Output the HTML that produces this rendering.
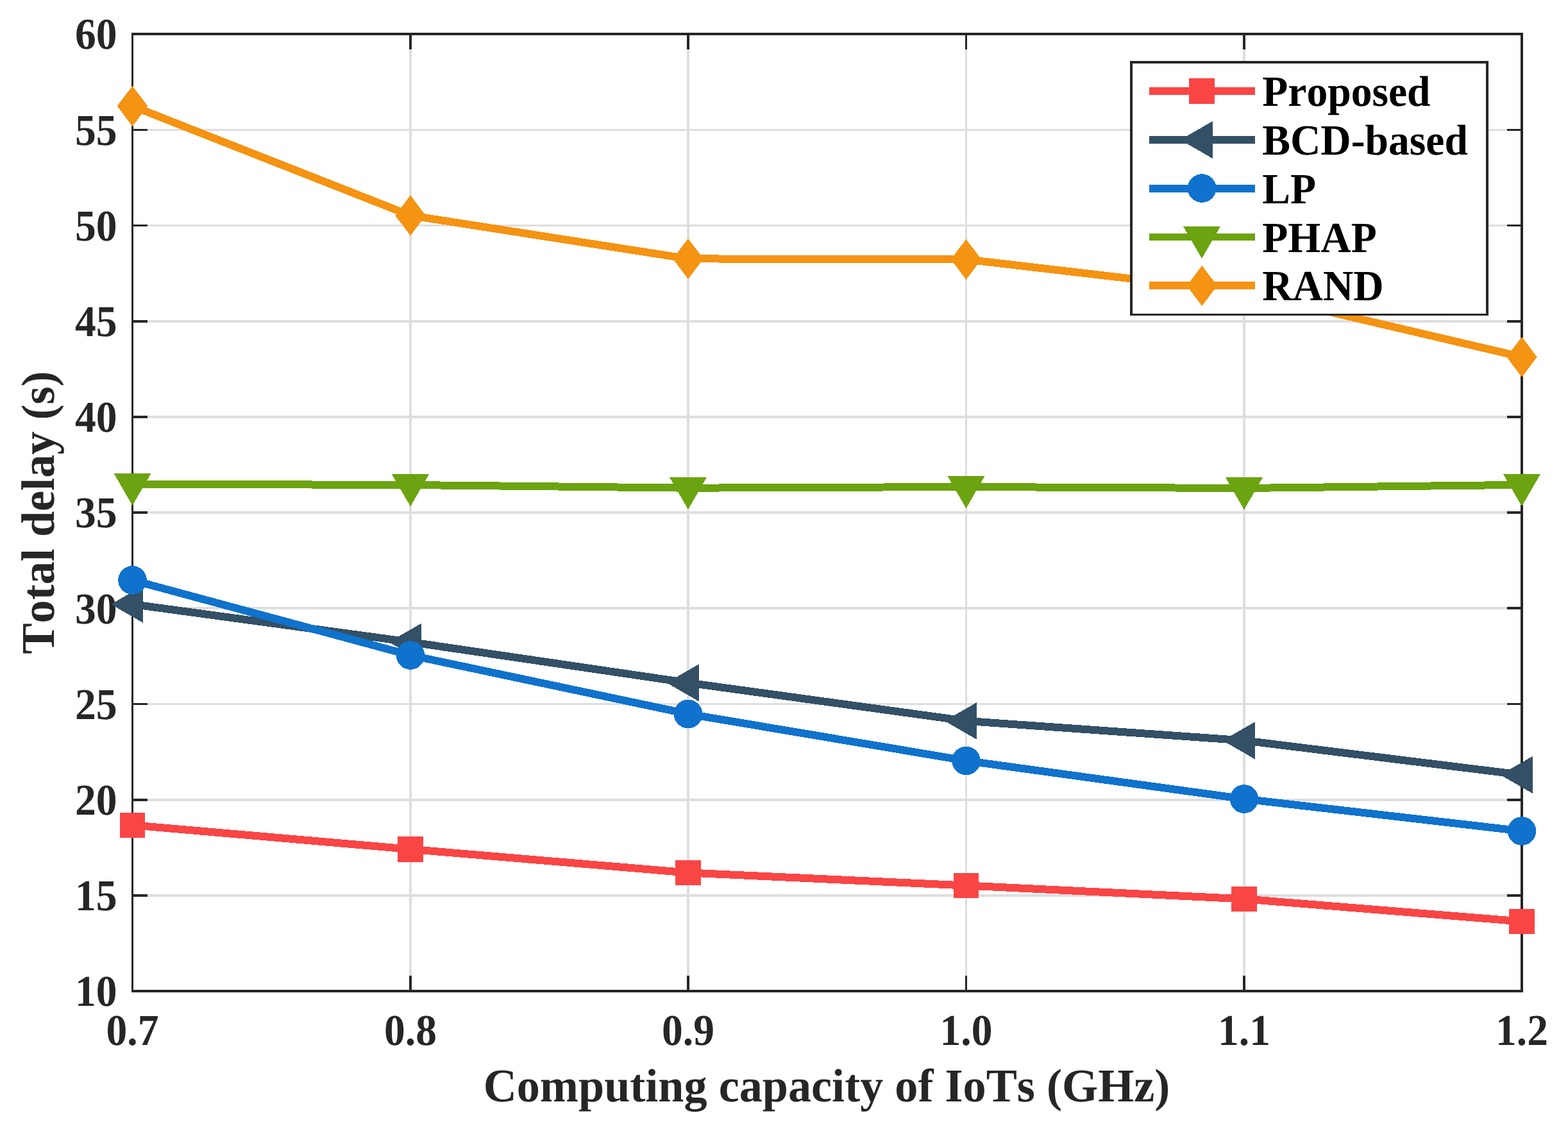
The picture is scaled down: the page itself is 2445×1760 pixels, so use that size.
<!DOCTYPE html>
<html><head><meta charset="utf-8"><title>Total delay vs computing capacity</title>
<style>
html,body{margin:0;padding:0;background:#fff;}
body{width:2445px;height:1760px;overflow:hidden;}
svg{display:block;}
text{font-family:"Liberation Serif",serif;font-weight:bold;font-kerning:none;text-rendering:geometricPrecision;}
</style></head><body>
<svg width="2445" height="1760" viewBox="0 0 2445 1760" shape-rendering="crispEdges">
<rect width="2445" height="1760" fill="#fff"/>
<g fill="#dedede"><rect x="638" y="55" width="4" height="1488"/><rect x="1071" y="55" width="4" height="1488"/><rect x="1505" y="55" width="3" height="1488"/><rect x="1938" y="55" width="4" height="1488"/><rect x="208" y="1394" width="2163" height="4"/><rect x="208" y="1245" width="2163" height="4"/><rect x="208" y="1096" width="2163" height="3"/><rect x="208" y="946" width="2163" height="4"/><rect x="208" y="797" width="2163" height="4"/><rect x="208" y="648" width="2163" height="4"/><rect x="208" y="499" width="2163" height="4"/><rect x="208" y="350" width="2163" height="3"/><rect x="208" y="201" width="2163" height="3"/></g>
<g fill="#262626"><rect x="638" y="55" width="4" height="22"/><rect x="638" y="1521" width="4" height="22"/><rect x="1071" y="55" width="4" height="22"/><rect x="1071" y="1521" width="4" height="22"/><rect x="1505" y="55" width="3" height="22"/><rect x="1505" y="1521" width="3" height="22"/><rect x="1938" y="55" width="4" height="22"/><rect x="1938" y="1521" width="4" height="22"/><rect x="208" y="1394" width="22" height="4"/><rect x="2350" y="1394" width="21" height="4"/><rect x="208" y="1245" width="22" height="4"/><rect x="2350" y="1245" width="21" height="4"/><rect x="208" y="1096" width="22" height="3"/><rect x="2350" y="1096" width="21" height="3"/><rect x="208" y="946" width="22" height="4"/><rect x="2350" y="946" width="21" height="4"/><rect x="208" y="797" width="22" height="4"/><rect x="2350" y="797" width="21" height="4"/><rect x="208" y="648" width="22" height="4"/><rect x="2350" y="648" width="21" height="4"/><rect x="208" y="499" width="22" height="4"/><rect x="2350" y="499" width="21" height="4"/><rect x="208" y="350" width="22" height="3"/><rect x="2350" y="350" width="21" height="3"/><rect x="208" y="201" width="22" height="3"/><rect x="2350" y="201" width="21" height="3"/><rect x="205" y="51" width="3" height="1496"/><rect x="2371" y="51" width="4" height="1496"/><rect x="205" y="51" width="2170" height="4"/><rect x="205" y="1543" width="2170" height="4"/></g>
<g fill="#262626" font-size="65.6"><text transform="translate(182.5,1568.4) scale(1,1.045)" text-anchor="end">10</text><text transform="translate(182.5,1419.2) scale(1,1.045)" text-anchor="end">15</text><text transform="translate(182.5,1270.0) scale(1,1.045)" text-anchor="end">20</text><text transform="translate(182.5,1120.8) scale(1,1.045)" text-anchor="end">25</text><text transform="translate(182.5,971.6) scale(1,1.045)" text-anchor="end">30</text><text transform="translate(182.5,822.4) scale(1,1.045)" text-anchor="end">35</text><text transform="translate(182.5,673.2) scale(1,1.045)" text-anchor="end">40</text><text transform="translate(182.5,524.0) scale(1,1.045)" text-anchor="end">45</text><text transform="translate(182.5,374.8) scale(1,1.045)" text-anchor="end">50</text><text transform="translate(182.5,225.6) scale(1,1.045)" text-anchor="end">55</text><text transform="translate(182.5,76.4) scale(1,1.045)" text-anchor="end">60</text><text transform="translate(206.5,1629.3) scale(1,1.045)" text-anchor="middle">0.7</text><text transform="translate(640.0,1629.3) scale(1,1.045)" text-anchor="middle">0.8</text><text transform="translate(1073.0,1629.3) scale(1,1.045)" text-anchor="middle">0.9</text><text transform="translate(1506.5,1629.3) scale(1,1.045)" text-anchor="middle">1.0</text><text transform="translate(1940.0,1629.3) scale(1,1.045)" text-anchor="middle">1.1</text><text transform="translate(2373.0,1629.3) scale(1,1.045)" text-anchor="middle">1.2</text></g>
<text transform="translate(1289,1717) scale(1,1.015)" text-anchor="middle" font-size="72.2" fill="#262626">Computing capacity of IoTs (GHz)</text>
<text transform="translate(84,799) rotate(-90) scale(1,1.015)" x="0" y="0" text-anchor="middle" font-size="72.2" fill="#262626">Total delay (s)</text>
<polyline points="206.5,1286.3 640.0,1323.9 1073.0,1360.5 1506.5,1380.5 1940.0,1401.4 2373.0,1436.5" fill="none" stroke="#FA4545" stroke-width="12" stroke-linejoin="round"/>
<g fill="#FA4545"><rect x="186.75" y="1266.55" width="39.5" height="39.5"/><rect x="620.25" y="1304.15" width="39.5" height="39.5"/><rect x="1053.25" y="1340.75" width="39.5" height="39.5"/><rect x="1486.75" y="1360.75" width="39.5" height="39.5"/><rect x="1920.25" y="1381.65" width="39.5" height="39.5"/><rect x="2353.25" y="1416.75" width="39.5" height="39.5"/></g>
<polyline points="206.5,942.0 640.0,1000.9 1073.0,1064.4 1506.5,1123.9 1940.0,1154.4 2373.0,1207.9" fill="none" stroke="#335066" stroke-width="12" stroke-linejoin="round"/>
<g fill="#335066"><polygon points="173.01,942.00 223.24,913.00 223.24,971.00"/><polygon points="606.51,1000.90 656.74,971.90 656.74,1029.90"/><polygon points="1039.51,1064.40 1089.74,1035.40 1089.74,1093.40"/><polygon points="1473.01,1123.90 1523.24,1094.90 1523.24,1152.90"/><polygon points="1906.51,1154.40 1956.74,1125.40 1956.74,1183.40"/><polygon points="2339.51,1207.90 2389.74,1178.90 2389.74,1236.90"/></g>
<polyline points="206.5,904.4 640.0,1021.5 1073.0,1113.0 1506.5,1185.9 1940.0,1245.5 2373.0,1295.5" fill="none" stroke="#0F72CC" stroke-width="12" stroke-linejoin="round"/>
<g fill="#0F72CC"><circle cx="206.50" cy="904.40" r="22.3"/><circle cx="640.00" cy="1021.50" r="22.3"/><circle cx="1073.00" cy="1113.00" r="22.3"/><circle cx="1506.50" cy="1185.90" r="22.3"/><circle cx="1940.00" cy="1245.50" r="22.3"/><circle cx="2373.00" cy="1295.50" r="22.3"/></g>
<polyline points="206.5,754.6 640.0,756.0 1073.0,760.7 1506.5,759.0 1940.0,761.0 2373.0,755.8" fill="none" stroke="#6CA310" stroke-width="12" stroke-linejoin="round"/>
<g fill="#6CA310"><polygon points="206.50,788.09 177.50,737.86 235.50,737.86"/><polygon points="640.00,789.49 611.00,739.26 669.00,739.26"/><polygon points="1073.00,794.19 1044.00,743.96 1102.00,743.96"/><polygon points="1506.50,792.49 1477.50,742.26 1535.50,742.26"/><polygon points="1940.00,794.49 1911.00,744.26 1969.00,744.26"/><polygon points="2373.00,789.29 2344.00,739.06 2402.00,739.06"/></g>
<polyline points="206.5,165.4 640.0,335.9 1073.0,403.4 1506.5,404.4 1940.0,455.0 2373.0,556.5" fill="none" stroke="#F59312" stroke-width="12" stroke-linejoin="round"/>
<g fill="#F59312"><polygon points="206.50,133.90 230.25,165.40 206.50,196.90 182.75,165.40"/><polygon points="640.00,304.40 663.75,335.90 640.00,367.40 616.25,335.90"/><polygon points="1073.00,371.90 1096.75,403.40 1073.00,434.90 1049.25,403.40"/><polygon points="1506.50,372.90 1530.25,404.40 1506.50,435.90 1482.75,404.40"/><polygon points="1940.00,423.50 1963.75,455.00 1940.00,486.50 1916.25,455.00"/><polygon points="2373.00,525.00 2396.75,556.50 2373.00,588.00 2349.25,556.50"/></g>
<rect x="1762" y="95" width="559" height="397" fill="#fff"/><g fill="#262626"><rect x="1762" y="95" width="559" height="4"/><rect x="1762" y="489" width="559" height="3"/><rect x="1762" y="95" width="4" height="397"/><rect x="2317" y="95" width="4" height="397"/></g>
<rect x="1792" y="136" width="165" height="12" fill="#FA4545"/><g fill="#FA4545"><rect x="1854.25" y="122.25" width="39.5" height="39.5"/></g><text transform="translate(1968.2,165.0) scale(1,1.022)" font-size="65.6" fill="#000">Proposed</text>
<rect x="1792" y="212" width="165" height="12" fill="#335066"/><g fill="#335066"><polygon points="1840.51,218.00 1890.74,189.00 1890.74,247.00"/></g><text transform="translate(1968.2,241.0) scale(1,1.022)" font-size="65.6" fill="#000">BCD-based</text>
<rect x="1792" y="288" width="165" height="12" fill="#0F72CC"/><g fill="#0F72CC"><circle cx="1874.20" cy="293.50" r="22.3"/></g><text transform="translate(1968.2,317.0) scale(1,1.022)" font-size="65.6" fill="#000">LP</text>
<rect x="1792" y="364" width="165" height="11" fill="#6CA310"/><g fill="#6CA310"><polygon points="1874.00,402.99 1845.00,352.76 1903.00,352.76"/></g><text transform="translate(1968.2,392.5) scale(1,1.022)" font-size="65.6" fill="#000">PHAP</text>
<rect x="1792" y="439" width="165" height="12" fill="#F59312"/><g fill="#F59312"><polygon points="1874.30,414.00 1898.05,445.50 1874.30,477.00 1850.55,445.50"/></g><text transform="translate(1968.2,468.0) scale(1,1.022)" font-size="65.6" fill="#000">RAND</text>
</svg>
</body></html>
